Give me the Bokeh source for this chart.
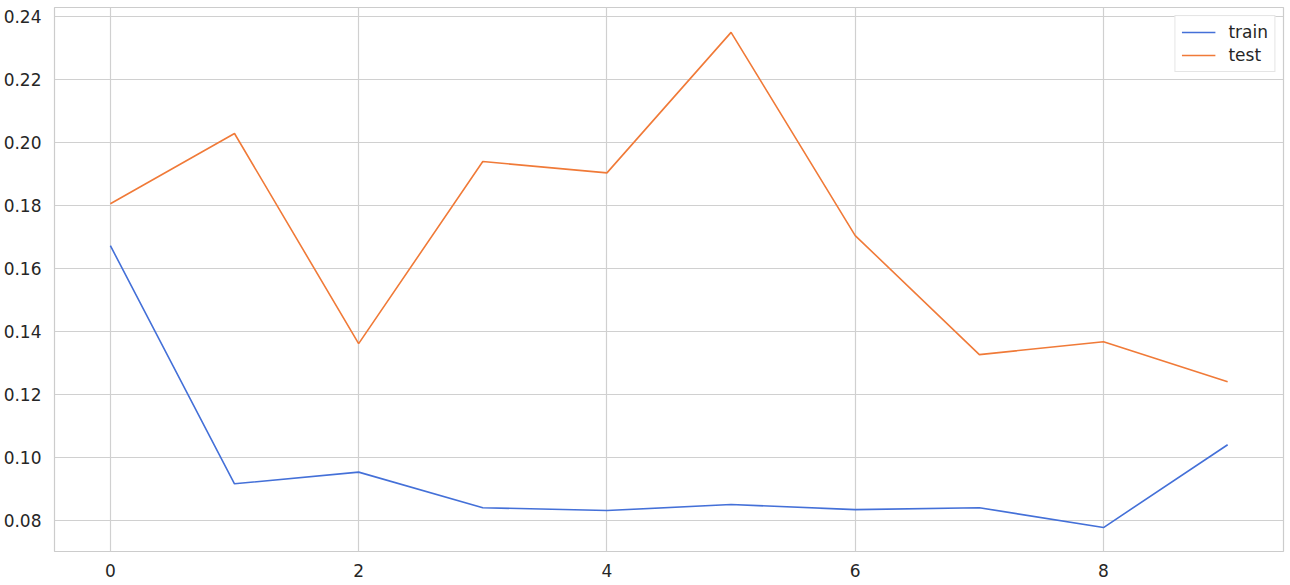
from bokeh.plotting import figure
from bokeh.models import Range1d, Legend, LegendItem, FixedTicker, CustomJSTickFormatter
from bokeh.embed import file_html
from bokeh.resources import INLINE

epochs = [0, 1, 2, 3, 4, 5, 6, 7, 8, 9]
train = [0.1673, 0.0917, 0.0954, 0.0841, 0.0832, 0.0851, 0.0835, 0.0841, 0.0778, 0.1041]
test = [0.1806, 0.2029, 0.1362, 0.1940, 0.1904, 0.2350, 0.1705, 0.1327, 0.1368, 0.1241]
x_ticks = [0, 2, 4, 6, 8]
y_ticks = [0.08, 0.10, 0.12, 0.14, 0.16, 0.18, 0.20, 0.22, 0.24]

p = figure(frame_width=1229, frame_height=544, output_backend="svg", toolbar_location=None,
           x_range=Range1d(-0.45, 9.45), y_range=Range1d(0.0702, 0.2429),
           min_border_left=0, min_border_top=7, min_border_right=3, min_border_bottom=0)

p.outline_line_color = "#cccccc"
p.outline_line_width = 1.2
p.background_fill_color = "white"
p.border_fill_color = "white"

for ax in (p.xaxis[0], p.yaxis[0]):
    ax.axis_line_color = None
    ax.major_tick_line_color = None
    ax.minor_tick_line_color = None
    ax.major_label_text_font = "DejaVu Sans"
    ax.major_label_text_font_size = "17px"
    ax.major_label_text_color = "#262626"
p.xaxis.major_label_standoff = 6
p.yaxis.major_label_standoff = 7

p.xaxis.ticker = FixedTicker(ticks=x_ticks)
p.yaxis.ticker = FixedTicker(ticks=y_ticks)
p.yaxis.formatter = CustomJSTickFormatter(code="return tick.toFixed(2);")

p.xgrid.grid_line_color = "#d0d0d0"
p.ygrid.grid_line_color = "#d0d0d0"
p.xgrid.grid_line_width = 1.2
p.ygrid.grid_line_width = 1.2

r1 = p.line(epochs, train, line_color="#4470d8", line_width=1.6)
r2 = p.line(epochs, test, line_color="#f07a38", line_width=1.6)

legend = Legend(items=[LegendItem(label="train", renderers=[r1]),
                       LegendItem(label="test", renderers=[r2])],
                location="top_right")
legend.label_text_font = "DejaVu Sans"
legend.label_text_font_size = "17px"
legend.label_text_color = "#262626"
legend.border_line_color = "#cccccc"
legend.border_line_width = 1
legend.glyph_width = 34
legend.glyph_height = 20
legend.spacing = 3
legend.padding = 6
legend.margin = 8
legend.label_standoff = 13
p.add_layout(legend)

open("out.html", "w").write(file_html(p, INLINE))
